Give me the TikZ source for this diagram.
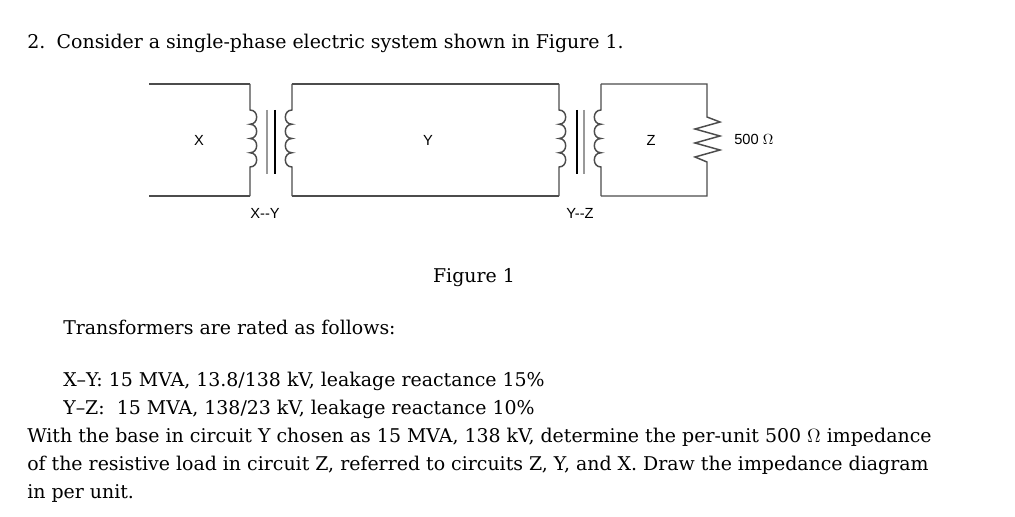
\documentclass[tikz,border=0pt]{standalone}
\usepackage{fontspec}
\setmainfont{DejaVu Serif}
\newfontfamily\lsans{Liberation Sans}
\begin{document}
\begin{tikzpicture}[x=0.75pt,y=-0.75pt,
  wire/.style={line width=1.1pt,draw=black!70},
  core/.style={line width=1.4pt},
  lab/.style={font=\lsans\fontsize{11}{13}\selectfont,inner sep=0},
  txt/.style={font=\fontsize{14.2}{17}\selectfont,anchor=base west,inner sep=0}]
\useasboundingbox (0,0) rectangle (1015,517);
% coil macro via pic
\tikzset{coil/.pic={
  \draw[wire] (0,0) -- (0,26)
   to[out=0,in=0,looseness=1.6] (0,40.25)
   to[out=0,in=0,looseness=1.6] (0,54.5)
   to[out=0,in=0,looseness=1.6] (0,68.75)
   to[out=0,in=0,looseness=1.6] (0,83) -- (0,112);}}
% left section
\draw[wire] (149,84) -- (250,84);
\draw[wire] (149,196) -- (250,196);
\pic at (250,84) {coil};
\draw[core,black!40] (267,110) -- (267,174);
\draw[core] (275,110) -- (275,174);
\pic[xscale=-1] at (292,84) {coil};
% Y section
\draw[wire] (292,84) -- (559,84);
\draw[wire] (292,196) -- (559,196);
\pic at (559,84) {coil};
\draw[core] (577,110) -- (577,174);
\draw[core,black!40] (584,110) -- (584,174);
\pic[xscale=-1] at (601,84) {coil};
% Z section
\draw[wire] (601,84) -- (707,84) -- (707,117)
  -- (720,122) -- (695,129) -- (720,136) -- (695,143) -- (720,150) -- (695,157) -- (707,162)
  -- (707,196) -- (601,196);
\node[lab] (x) at (199,140) {X};
\node[lab] (y) at (428,140) {Y};
\node[lab] (z) at (651,140) {Z};
\node[lab,anchor=west] (r) at (734,139) {500 $\Omega$};
\node[lab] (xy) at (265,213) {X--Y};
\node[lab] (yz) at (580,213) {Y--Z};
\node[txt,anchor=base] (fig) at (474,282) {Figure 1};
\node[txt] (t0) at (27,49) {2.\hspace{0.6em}Consider a single-phase electric system shown in Figure 1.};
\node[txt] (t1) at (63,334) {Transformers are rated as follows:};
\node[txt] (t2) at (63,386) {X--Y: 15 MVA, 13.8/138 kV, leakage reactance 15\%};
\node[txt] (t3) at (63,414) {Y--Z:\ \ 15 MVA, 138/23 kV, leakage reactance 10\%};
\node[txt] (t4) at (27,442) {With the base in circuit Y chosen as 15 MVA, 138 kV, determine the per-unit 500 $\Omega$ impedance};
\node[txt] (t5) at (27,470) {of the resistive load in circuit Z, referred to circuits Z, Y, and X. Draw the impedance diagram};
\node[txt] (t6) at (27,498) {in per unit.};
\end{tikzpicture}
\end{document}
